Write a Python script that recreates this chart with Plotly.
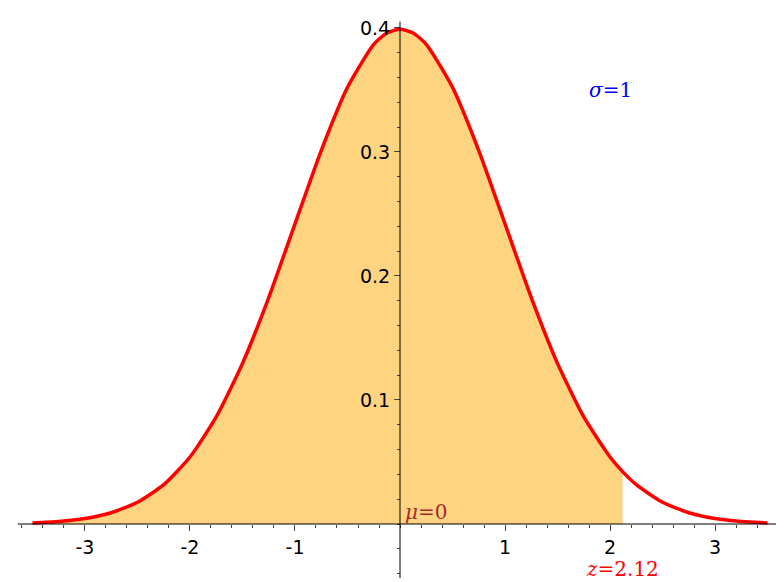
import plotly.graph_objects as go

# density (symmetric)
xs = [-3.5, -3.25, -3.0, -2.75, -2.5, -2.25, -2.0, -1.75, -1.5, -1.25, -1.0, -0.75, -0.5, -0.25, -0.125,
      0.0, 0.125, 0.25, 0.5, 0.75, 1.0, 1.25, 1.5, 1.75, 2.0, 2.12, 2.25, 2.5, 2.75, 3.0, 3.25, 3.5]
ys = [0.0009, 0.0020, 0.0044, 0.0091, 0.0175, 0.0317, 0.0540, 0.0863, 0.1295, 0.1826, 0.2420, 0.3011, 0.3521, 0.3867, 0.3958,
      0.3989, 0.3958, 0.3867, 0.3521, 0.3011, 0.2420, 0.1826, 0.1295, 0.0863, 0.0540, 0.0422, 0.0317, 0.0175, 0.0091, 0.0044, 0.0020, 0.0009]
z = 2.12
xticks = [-3, -2, -1, 1, 2, 3]
yticks = [0.1, 0.2, 0.3, 0.4]

fill_x = [x for x in xs if x <= z]
fill_y = ys[:len(fill_x)]

fig = go.Figure()
fig.add_trace(go.Scatter(x=fill_x, y=fill_y, mode='lines', line=dict(width=0, shape='spline', smoothing=0.6),
                         fill='tozeroy', fillcolor='#fed480', hoverinfo='skip'))
fig.add_trace(go.Scatter(x=xs, y=ys, mode='lines', line=dict(color='red', width=3.5, shape='spline', smoothing=0.6)))

# axis lines through the origin
fig.add_shape(type='line', x0=-3.64, x1=3.65, y0=0, y1=0, line=dict(color='black', width=1))
fig.add_shape(type='line', x0=0, x1=0, y0=-0.0435, y1=0.405, line=dict(color='black', width=1))

serif = 'DejaVu Serif'
fig.add_annotation(x=2.0, y=0.35, text='<i>σ</i>=1', showarrow=False,
                   font=dict(family=serif, size=20, color='blue'))
fig.add_annotation(x=0.03, y=0.01, text='<i>μ</i>=0', showarrow=False, xanchor='left',
                   font=dict(family=serif, size=20, color='#a52a2a'))
fig.add_annotation(x=2.12, y=-0.036, text='<i>z</i>=2.12', showarrow=False,
                   font=dict(family=serif, size=20, color='red'))

fig.update_layout(
    width=784, height=582, margin=dict(l=0, r=0, t=0, b=0, autoexpand=False),
    plot_bgcolor='white', paper_bgcolor='white', showlegend=False,
    font=dict(family='DejaVu Sans', size=19, color='black'),
    xaxis=dict(range=[-3.733, 3.733], showgrid=False, zeroline=False, showline=False,
               anchor='free', position=66/582, tickmode='array', tickvals=xticks,
               ticktext=[str(t) for t in xticks], ticks='outside', ticklen=6,
               minor=dict(dtick=0.2, ticks='outside', ticklen=3, tick0=0)),
    yaxis=dict(range=[-0.0532, 0.416], showgrid=False, zeroline=False, showline=False,
               anchor='free', position=0.5, tickmode='array', tickvals=yticks,
               ticktext=[str(t) for t in yticks], ticks='outside', ticklen=6,
               minor=dict(dtick=0.02, ticks='outside', ticklen=3, tick0=0)),
)

fig.write_html("out.html")
